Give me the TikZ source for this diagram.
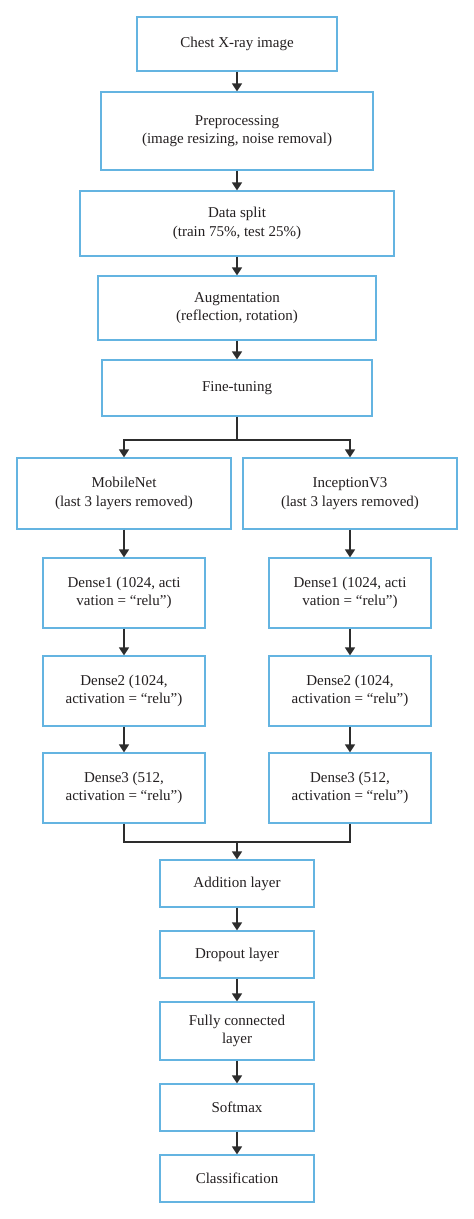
\documentclass[tikz,border=0pt]{standalone}
\usepackage{fontspec}
\setmainfont{Liberation Serif}
\usetikzlibrary{arrows.meta}
\definecolor{boxblue}{RGB}{100,180,225}
\definecolor{txt}{RGB}{35,31,32}
\definecolor{arrowgray}{RGB}{45,45,45}
\tikzset{
  box/.style={draw=boxblue, line width=1.2pt, fill=white, align=center, inner sep=0pt,
    font=\fontsize{15}{18.3}\selectfont, text=txt},
  arr/.style={draw=arrowgray, line width=1.5pt, -{Triangle[length=8pt,width=10pt]}},
  ln/.style={draw=arrowgray, line width=1.5pt}
}
\begin{document}
\begin{tikzpicture}[x=1pt,y=-1pt]
\useasboundingbox[fill=white] (0,0) rectangle (474,1219);
\node[box, minimum width=200pt, minimum height=54pt] (chest) at (237,44) {Chest X-ray image};
\node[box, minimum width=272pt, minimum height=78pt] (pre) at (237,131) {Preprocessing\\(image resizing, noise removal)};
\node[box, minimum width=314pt, minimum height=65pt] (split) at (237,223.5) {Data split\\(train 75\%, test 25\%)};
\node[box, minimum width=278pt, minimum height=64pt] (aug) at (237,308) {Augmentation\\(reflection, rotation)};
\node[box, minimum width=270pt, minimum height=56pt] (fine) at (237,388) {Fine-tuning};
\node[box, minimum width=214pt, minimum height=71pt] (mob) at (124,493.5) {MobileNet\\(last 3 layers removed)};
\node[box, minimum width=214pt, minimum height=71pt] (inc) at (350,493.5) {InceptionV3\\(last 3 layers removed)};
\node[box, minimum width=162pt, minimum height=70pt] (d1l) at (124,593) {Dense1 (1024, acti\\vation = “relu”)};
\node[box, minimum width=162pt, minimum height=70pt] (d1r) at (350,593) {Dense1 (1024, acti\\vation = “relu”)};
\node[box, minimum width=162pt, minimum height=70pt] (d2l) at (124,691) {Dense2 (1024,\\activation = “relu”)};
\node[box, minimum width=162pt, minimum height=70pt] (d2r) at (350,691) {Dense2 (1024,\\activation = “relu”)};
\node[box, minimum width=162pt, minimum height=70pt] (d3l) at (124,788) {Dense3 (512,\\activation = “relu”)};
\node[box, minimum width=162pt, minimum height=70pt] (d3r) at (350,788) {Dense3 (512,\\activation = “relu”)};
\node[box, minimum width=154pt, minimum height=47pt] (add) at (237,883.5) {Addition layer};
\node[box, minimum width=154pt, minimum height=47pt] (drop) at (237,954.5) {Dropout layer};
\node[box, minimum width=154pt, minimum height=58pt] (fc) at (237,1031) {Fully connected\\layer};
\node[box, minimum width=154pt, minimum height=47pt] (soft) at (237,1107.5) {Softmax};
\node[box, minimum width=154pt, minimum height=47pt] (cls) at (237,1178.5) {Classification};
\coordinate (branch) at (237,440);
\coordinate (merge) at (237,842);
\draw[arr] (chest) -- (pre);
\draw[arr] (pre) -- (split);
\draw[arr] (split) -- (aug);
\draw[arr] (aug) -- (fine);
\draw[ln] (fine.south) -- (branch);
\draw[arr] (branch) -| (mob.north);
\draw[arr] (branch) -| (inc.north);
\draw[arr] (mob) -- (d1l);
\draw[arr] (inc) -- (d1r);
\draw[arr] (d1l) -- (d2l);
\draw[arr] (d1r) -- (d2r);
\draw[arr] (d2l) -- (d3l);
\draw[arr] (d2r) -- (d3r);
\draw[ln] (d3l.south) |- (merge);
\draw[ln] (d3r.south) |- (merge);
\draw[arr] (merge) -- (add.north);
\draw[arr] (add) -- (drop);
\draw[arr] (drop) -- (fc);
\draw[arr] (fc) -- (soft);
\draw[arr] (soft) -- (cls);
\end{tikzpicture}
\end{document}
